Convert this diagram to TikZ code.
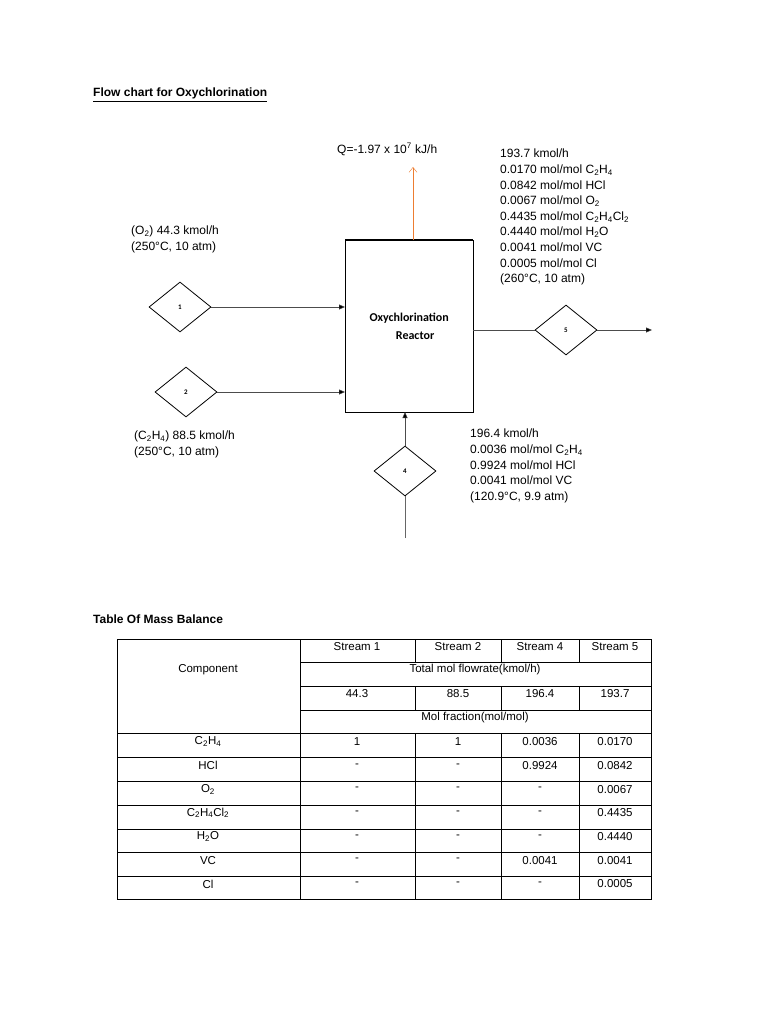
\documentclass[tikz,border=0pt]{standalone}
\usepackage{fontspec}
\setmainfont{Liberation Sans}
\newfontfamily\carlitofont{Carlito}
\usetikzlibrary{shapes.geometric,arrows.meta}
\newcommand{\subs}[1]{\textsubscript{#1}}
\begin{document}
\begin{tikzpicture}[x=1pt,y=-1pt,
  txt/.style={font=\fontsize{12}{15.6}\selectfont,align=left,inner sep=0,anchor=north west},
  dia/.style={diamond,draw,thick,minimum width=62,minimum height=50,inner sep=0,font=\carlitofont\bfseries\fontsize{7}{8}\selectfont},
  arr/.style={draw=black!70,-{Triangle[length=6,width=5,fill=black]}},
  cell/.style={font=\fontsize{11.5}{13}\selectfont,anchor=center,inner sep=0}]
\useasboundingbox (0,0) rectangle (768,1024);
\fill[white] (0,0) rectangle (768,1024);
\node[txt,font=\bfseries\fontsize{12}{14}\selectfont] (title) at (93,88) {\underline{Flow chart for Oxychlorination}};
% reactor
\node[draw,minimum width=128,minimum height=172,inner sep=0,anchor=north west,font=\carlitofont\bfseries\fontsize{12}{18}\selectfont,align=left] (R) at (345,240) {Oxychlorination\\\hspace*{2.2em}Reactor};
\draw[very thick] (R.north west) -- (R.north east);
\node[dia] (d1) at (180,307) {1};
\node[dia] (d2) at (186,392) {2};
\node[dia] (d4) at (405,471) {4};
\node[dia] (d5) at (566,330) {5};
\coordinate (p1) at (345,307);
\coordinate (p2) at (345,392);
\coordinate (p4t) at (405,412);
\coordinate (p4b) at (405,538);
\coordinate (p5a) at (473,330);
\coordinate (p5b) at (652,330);
\coordinate (qt) at (413,167);
\coordinate (qb) at (413,240);
\draw[arr] (d1.east) -- (p1);
\draw[arr] (d2.east) -- (p2);
\draw[draw=black!60] (p4b) -- (d4.south);
\draw[arr] (d4.north) -- (p4t);
\draw[draw=black!70] (p5a) -- (d5.west);
\draw[arr] (d5.east) -- (p5b);
\draw[draw={rgb,255:red,237;green,125;blue,49},-{Straight Barb[length=5,width=8]}] (qb) -- (qt);
% labels
\node[txt] (q) at (337,143) {Q=-1.97 x 10\textsuperscript{7} kJ/h};
\node[txt] (s5) at (500,149) {193.7 kmol/h\\0.0170 mol/mol C\subs{2}H\subs{4}\\0.0842 mol/mol HCl\\0.0067 mol/mol O\subs{2}\\0.4435 mol/mol C\subs{2}H\subs{4}Cl\subs{2}\\0.4440 mol/mol H\subs{2}O\\0.0041 mol/mol VC\\0.0005 mol/mol Cl\\(260°C, 10 atm)};
\node[txt] (s1) at (131,226) {(O\subs{2}) 44.3 kmol/h\\(250°C, 10 atm)};
\node[txt] (s2) at (134,431) {(C\subs{2}H\subs{4}) 88.5 kmol/h\\(250°C, 10 atm)};
\node[txt] (s4) at (470,429) {196.4 kmol/h\\0.0036 mol/mol C\subs{2}H\subs{4}\\0.9924 mol/mol HCl\\0.0041 mol/mol VC\\(120.9°C, 9.9 atm)};
\node[txt,font=\bfseries\fontsize{12}{14}\selectfont] (tt) at (93,615) {Table Of Mass Balance};
% table
\draw (117,639) rectangle (651,899);
\foreach \y in {686,710,733} \draw (300,\y) -- (651,\y);
\draw (300,662) -- (651,662);
\foreach \y in {757,781,805,829,852,876} \draw (117,\y) -- (651,\y);
\draw (117,733) -- (651,733);
\draw (300,639) -- (300,899);
\foreach \x in {415,501,579} {\draw (\x,639) -- (\x,662); \draw (\x,686) -- (\x,710); \draw (\x,733) -- (\x,899);}
\node[cell] (h1) at (357,647) {Stream 1};
\node[cell] (h2) at (458,647) {Stream 2};
\node[cell] (h4) at (540,647) {Stream 4};
\node[cell] (h5) at (615,647) {Stream 5};
\node[cell] (comp) at (208,670) {Component};
\node[cell] (tm) at (475,670) {Total mol flowrate(kmol/h)};
\node[cell] (f1) at (357,694) {44.3};
\node[cell] (f2) at (458,694) {88.5};
\node[cell] (f4) at (540,694) {196.4};
\node[cell] (f5) at (615,694) {193.7};
\node[cell] (mf) at (475,718) {Mol fraction(mol/mol)};
\foreach \n [count=\i] in {C\subs{2}H\subs{4},HCl,O\subs{2},C\subs{2}H\subs{4}Cl\subs{2},H\subs{2}O,VC,Cl}
  \node[cell] (c\i) at (208,718+23.7*\i) {\n};
\foreach \a/\b/\c/\d [count=\i] in {1/1/0.0036/0.0170,-/-/0.9924/0.0842,-/-/-/0.0067,-/-/-/0.4435,-/-/-/0.4440,-/-/0.0041/0.0041,-/-/-/0.0005}{
  \node[cell] (v1\i) at (357,718+23.7*\i) {\a};
  \node[cell] (v2\i) at (458,718+23.7*\i) {\b};
  \node[cell] (v4\i) at (540,718+23.7*\i) {\c};
  \node[cell] (v5\i) at (615,718+23.7*\i) {\d};}
\end{tikzpicture}
\end{document}
